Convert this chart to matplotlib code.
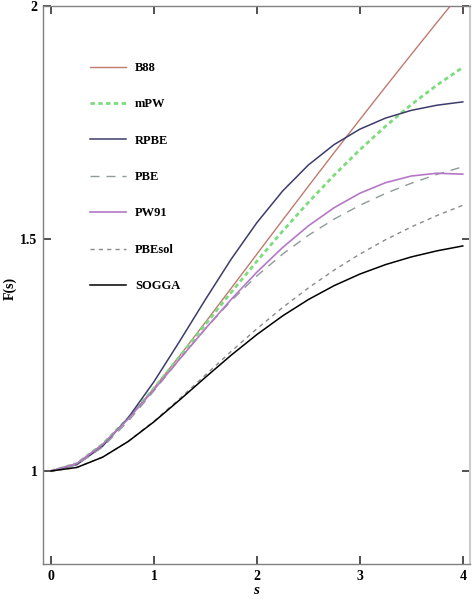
import matplotlib
matplotlib.use("Agg")
import matplotlib.pyplot as plt

s_values = [0.0, 0.25, 0.5, 0.75, 1.0, 1.25, 1.5, 1.75, 2.0, 2.25, 2.5, 2.75, 3.0, 3.25, 3.5, 3.75, 4.0]

b88 = [1.0000, 1.0160, 1.0570, 1.1132, 1.1781, 1.2478, 1.3199, 1.3931, 1.4665,
       1.5397, 1.6124, 1.6845, 1.7558, 1.8263, 1.8960, 1.9650, 2.0332]
mpw = [1.0000, 1.0162, 1.0575, 1.1137, 1.1780, 1.2461, 1.3154, 1.3842, 1.4513,
       1.5160, 1.5778, 1.6362, 1.6909, 1.7415, 1.7880, 1.8302, 1.8679]
rpbe = [1.0000, 1.0136, 1.0531, 1.1145, 1.1921, 1.2792, 1.3690, 1.4556, 1.5342,
        1.6022, 1.6581, 1.7020, 1.7351, 1.7590, 1.7756, 1.7867, 1.7938]
pbe = [1.0000, 1.0135, 1.0514, 1.1070, 1.1724, 1.2404, 1.3060, 1.3661, 1.4197,
       1.4665, 1.5069, 1.5417, 1.5714, 1.5970, 1.6189, 1.6379, 1.6542]
pw91 = [1.0000, 1.0160, 1.0568, 1.1121, 1.1750, 1.2408, 1.3062, 1.3690, 1.4277,
        1.4807, 1.5272, 1.5662, 1.5973, 1.6201, 1.6344, 1.6404, 1.6383]
pbesol = [1.0000, 1.0076, 1.0297, 1.0639, 1.1070, 1.1556, 1.2065, 1.2572, 1.3059,
          1.3516, 1.3937, 1.4320, 1.4665, 1.4974, 1.5249, 1.5495, 1.5714]
sogga = [1.0000, 1.0076, 1.0296, 1.0635, 1.1058, 1.1529, 1.2015, 1.2491, 1.2935,
         1.3336, 1.3687, 1.3986, 1.4235, 1.4439, 1.4604, 1.4735, 1.4840]

labels = ["B88", "mPW", "RPBE", "PBE", "PW91", "PBEsol", "SOGGA"]
x_ticks = [0, 1, 2, 3, 4]
x_tick_labels = ["0", "1", "2", "3", "4"]
y_ticks = [1.0, 1.5, 2.0]
y_tick_labels = ["1", "1.5", "2"]
x_label = "s"
y_label = "F(s)"

plt.rcParams['font.family'] = ['Liberation Serif', 'DejaVu Serif']
plt.rcParams['font.weight'] = 'bold'

fig = plt.figure(figsize=(4.74, 6.01), dpi=100)
ax = fig.add_axes([43 / 474, 37 / 601, 427 / 474, 558 / 601])

series = [b88, mpw, rpbe, pbe, pw91, pbesol, sogga]
styles = [
    dict(color="#c07a6e", lw=1.0, ls="-"),
    dict(color="#7ddc7d", lw=2.0, ls=(0, (1.6, 1.2))),
    dict(color="#3c3c6c", lw=1.1, ls="-"),
    dict(color="#8f9a9a", lw=1.0, ls=(0, (6.5, 5.0))),
    dict(color="#b478c6", lw=1.2, ls="-"),
    dict(color="#8a8a8a", lw=1.0, ls=(0, (3.0, 3.0))),
    dict(color="#000000", lw=1.1, ls="-"),
]
for vals, lab, st in zip(series, labels, styles):
    ax.plot(s_values, vals, label=lab, color=st["color"], lw=st["lw"],
            linestyle=st["ls"])

ax.set_xlim(-0.078, 4.07)
ax.set_ylim(0.8, 2.0)
ax.set_xticks(x_ticks)
ax.set_xticklabels(x_tick_labels)
ax.set_yticks(y_ticks)
ax.set_yticklabels(y_tick_labels)
ax.tick_params(direction="in", length=6, width=1.2, color="#333333",
               labelsize=10, top=True, right=True, pad=4)
for sp in ["left", "bottom", "top"]:
    ax.spines[sp].set_color("#808080")
    ax.spines[sp].set_linewidth(1.0)
ax.spines["right"].set_color("#cccccc")
ax.spines["right"].set_linewidth(1.5)

fig.text(256 / 474, 1 - 591 / 601, x_label, fontsize=11, fontstyle="italic",
         fontweight="bold", ha="center", va="center")
fig.text(10 / 474, 1 - 288 / 601, y_label, fontsize=10, fontweight="bold",
         rotation=90, ha="center", va="center")

leg = ax.legend(loc="upper left", bbox_to_anchor=(47 / 427, 1 - 56 / 558),
                frameon=False, fontsize=9, handlelength=2.9, handletextpad=0.7,
                labelspacing=1.95, borderpad=0, borderaxespad=0)

fig.savefig("out.png", dpi=100)
